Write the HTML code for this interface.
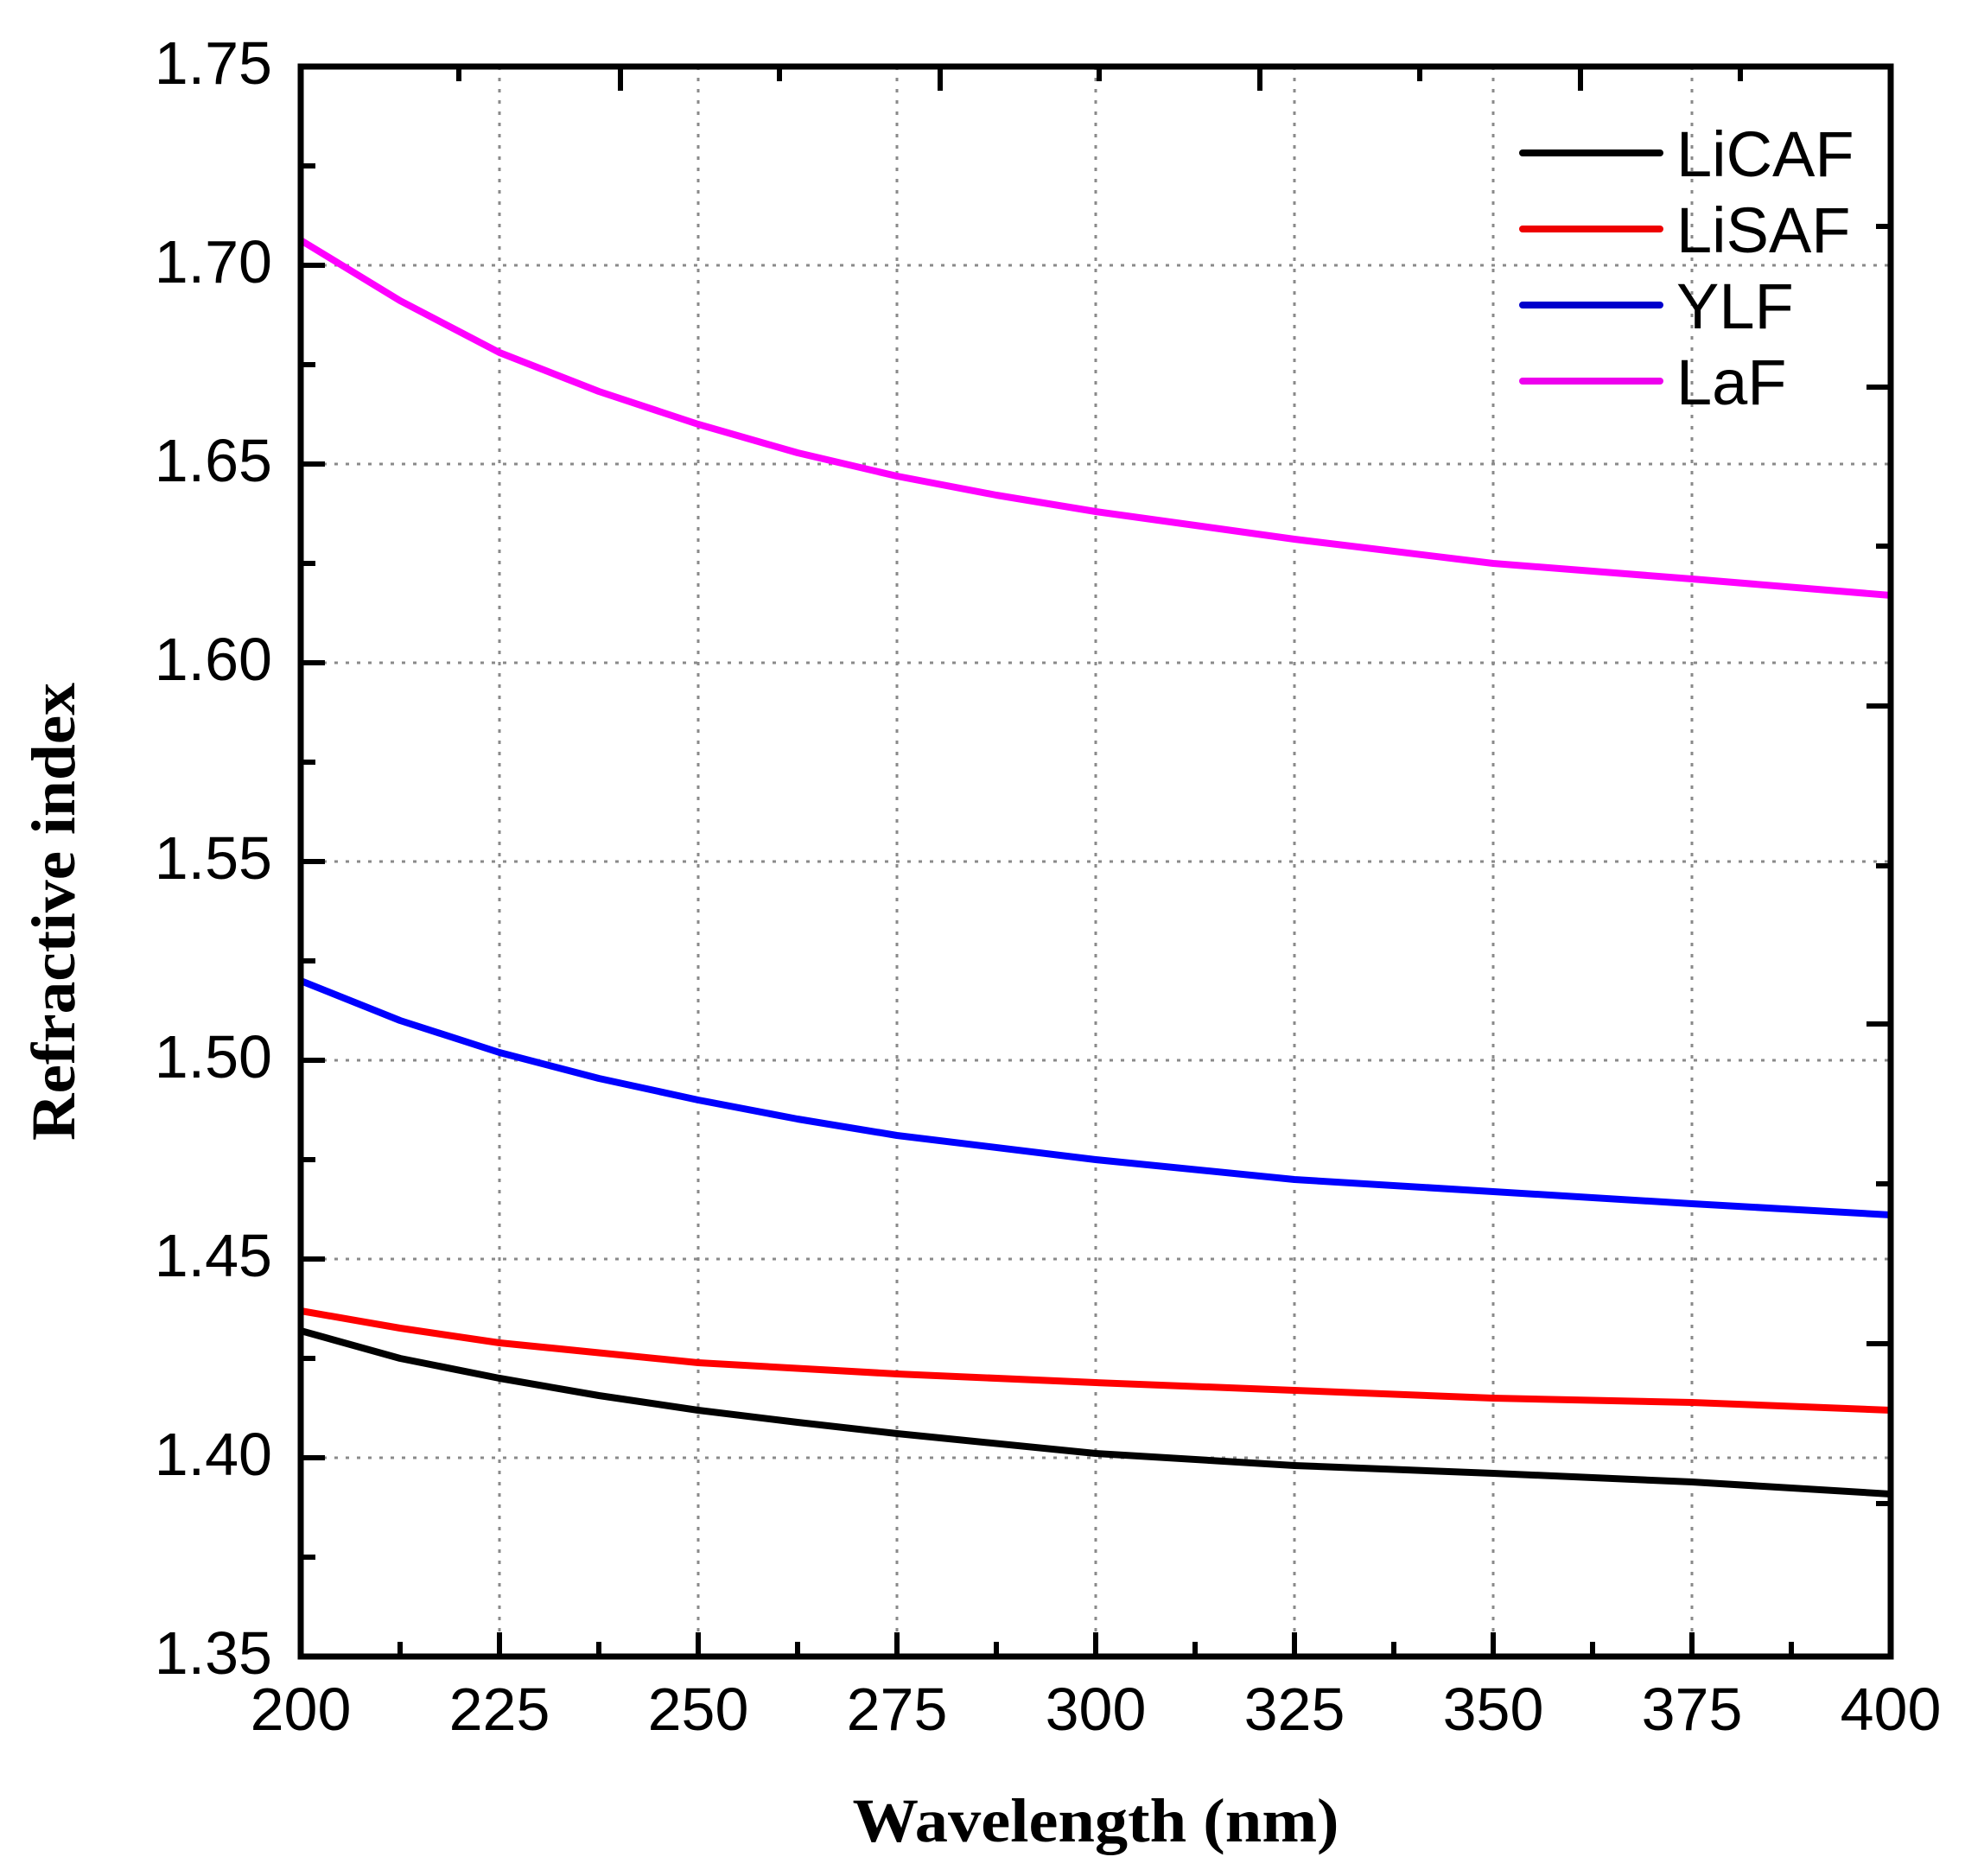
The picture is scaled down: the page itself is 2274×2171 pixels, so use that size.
<!DOCTYPE html>
<html><head><meta charset="utf-8"><style>
html,body{margin:0;padding:0;background:#fff;}
svg{display:block;}
text{font-family:"Liberation Sans",Arial,sans-serif;fill:#000;}
.t{font-size:70px;}
.ttl{font-family:"Liberation Serif","Times New Roman",serif;font-weight:bold;font-size:72px;}
</style></head><body>
<svg width="2274" height="2171" viewBox="0 0 2274 2171" xmlns="http://www.w3.org/2000/svg">
<rect width="2274" height="2171" fill="#fff"/>
<!-- grid -->
<g stroke="#8a8a8a" stroke-width="3" stroke-dasharray="4 9" fill="none">
<path d="M578 77V1917M808 77V1917M1038 77V1917M1268 77V1917M1498 77V1917M1728 77V1917M1958 77V1917"/>
<path d="M348 307H2188M348 537H2188M348 767H2188M348 997H2188M348 1227H2188M348 1457H2188M348 1687H2188"/>
</g>
<!-- curves -->
<g fill="none" stroke-width="8" stroke-linejoin="round" stroke-linecap="butt">
<polyline stroke="#000" points="348,1540 463,1572 578,1595 693,1615 808,1632 923,1646 1038,1659 1268,1682 1498,1696 1728,1705 1958,1715 2188,1729"/>
<polyline stroke="#f00" points="348,1517 463,1537 578,1554 808,1577 1038,1590 1268,1600 1498,1609 1728,1618 1958,1623 2188,1632"/>
<polyline stroke="#00f" points="348,1135 463,1181 578,1218 693,1248 808,1273 923,1295 1038,1314 1268,1342 1498,1365 1728,1379 1958,1393 2188,1406"/>
<polyline stroke="#f0f" points="348,278 463,348 578,408 693,453 808,491 923,524 1038,551 1153,573 1268,592 1498,624 1728,652 1958,670 2188,689"/>
</g>
<!-- ticks -->
<g stroke="#000" stroke-width="6">
<!-- left -->
<path d="M348 307h28M348 537h28M348 767h28M348 997h28M348 1227h28M348 1457h28M348 1687h28"/>
<path d="M348 192h17M348 422h17M348 652h17M348 882h17M348 1112h17M348 1342h17M348 1572h17M348 1802h17"/>
<!-- bottom -->
<path d="M578 1917v-28M808 1917v-28M1038 1917v-28M1268 1917v-28M1498 1917v-28M1728 1917v-28M1958 1917v-28"/>
<path d="M463 1917v-17M693 1917v-17M923 1917v-17M1153 1917v-17M1383 1917v-17M1613 1917v-17M1843 1917v-17M2073 1917v-17"/>
<!-- top -->
<path d="M718 77v28M1088 77v28M1458 77v28M1829 77v28"/>
<path d="M531 77v17M902 77v17M1272 77v17M1643 77v17M2014 77v17"/>
<!-- right -->
<path d="M2188 448h-28M2188 817h-28M2188 1185h-28M2188 1555h-28"/>
<path d="M2188 262h-17M2188 632h-17M2188 1002h-17M2188 1370h-17M2188 1740h-17"/>
</g>
<!-- frame -->
<rect x="348" y="77" width="1840" height="1840" fill="none" stroke="#000" stroke-width="7"/>
<!-- y labels -->
<g class="t" text-anchor="end">
<text x="315" y="97">1.75</text>
<text x="315" y="327">1.70</text>
<text x="315" y="557">1.65</text>
<text x="315" y="787">1.60</text>
<text x="315" y="1017">1.55</text>
<text x="315" y="1247">1.50</text>
<text x="315" y="1477">1.45</text>
<text x="315" y="1707">1.40</text>
<text x="315" y="1937">1.35</text>
</g>
<!-- x labels -->
<g class="t" text-anchor="middle">
<text x="348" y="2002">200</text>
<text x="578" y="2002">225</text>
<text x="808" y="2002">250</text>
<text x="1038" y="2002">275</text>
<text x="1268" y="2002">300</text>
<text x="1498" y="2002">325</text>
<text x="1728" y="2002">350</text>
<text x="1958" y="2002">375</text>
<text x="2188" y="2002">400</text>
</g>
<!-- titles -->
<text class="ttl" x="1268" y="2131" text-anchor="middle" textLength="563" lengthAdjust="spacingAndGlyphs">Wavelength (nm)</text>
<text class="ttl" transform="translate(86,1055) rotate(-90)" text-anchor="middle" textLength="530" lengthAdjust="spacingAndGlyphs">Refractive index</text>
<!-- legend -->
<g stroke-width="8" stroke-linecap="round">
<line x1="1762" y1="177" x2="1921" y2="177" stroke="#000"/>
<line x1="1762" y1="265" x2="1921" y2="265" stroke="#e00"/>
<line x1="1762" y1="353" x2="1921" y2="353" stroke="#00c"/>
<line x1="1762" y1="441" x2="1921" y2="441" stroke="#e0e"/>
</g>
<g style="font-size:74px">
<text x="1940" y="204">LiCAF</text>
<text x="1940" y="292">LiSAF</text>
<text x="1940" y="380">YLF</text>
<text x="1940" y="468">LaF</text>
</g>
</svg>
</body></html>
